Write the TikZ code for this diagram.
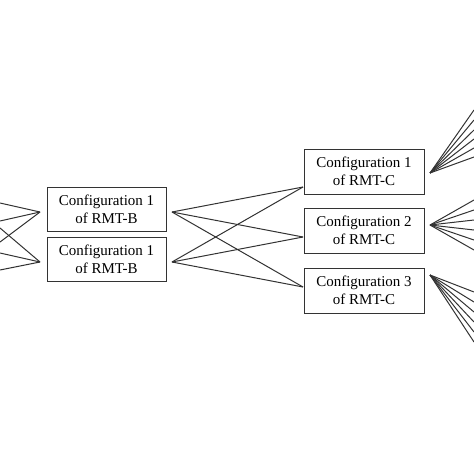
\documentclass[tikz,border=0pt]{standalone}
\usepackage{fontspec}
\setmainfont{Liberation Serif}
\usetikzlibrary{positioning}

\tikzset{
  cfgbox/.style={draw=black!80, line width=0.9pt, minimum width=119pt, minimum height=44pt,
    inner sep=0pt, align=center, font=\fontsize{15}{18}\selectfont},
  link/.style={draw=black!80, line width=1pt}
}

\begin{document}
\begin{tikzpicture}[x=1pt,y=-1pt]
  \useasboundingbox (0,0) rectangle (474,474);

  % Configurations of RMT-B
  \node[cfgbox] (b1) at (106.5,209) {Configuration 1\\of RMT-B};
  \node[cfgbox] (b2) at (106.5,259) {Configuration 1\\of RMT-B};

  % Configurations of RMT-C
  \node[cfgbox, minimum width=120pt, minimum height=45pt] (c1) at (364,171.5) {Configuration 1\\of RMT-C};
  \node[cfgbox, minimum width=120pt, minimum height=45pt] (c2) at (364,230.5) {Configuration 2\\of RMT-C};
  \node[cfgbox, minimum width=120pt, minimum height=45pt] (c3) at (364,290.5) {Configuration 3\\of RMT-C};

  % Attach points
  \coordinate (b1in) at (40,212);
  \coordinate (b2in) at (40,262);
  \coordinate (b1out) at (172,212);
  \coordinate (b2out) at (172,262);
  \coordinate (c1in) at (303,187);
  \coordinate (c2in) at (303,237);
  \coordinate (c3in) at (303,287);
  \coordinate (c1out) at (430,173);
  \coordinate (c2out) at (430,225);
  \coordinate (c3out) at (430,275);

  % Links from RMT-A (cut off)
  \foreach \y in {203,221,242} {
    \coordinate (a) at (0,\y);
    \draw[link] (a) -- (b1in);
  }
  \foreach \y in {228,253,270} {
    \coordinate (a) at (0,\y);
    \draw[link] (a) -- (b2in);
  }

  % Links RMT-B to RMT-C
  \foreach \b in {b1out,b2out} {
    \foreach \c in {c1in,c2in,c3in} {
      \draw[link] (\b) -- (\c);
    }
  }

  % Links to RMT-D (cut off)
  \foreach \y in {110,120,130,139,148,157} {
    \coordinate (d) at (474,\y);
    \draw[link] (c1out) -- (d);
  }
  \foreach \y in {200,210,220,230,240,250} {
    \coordinate (d) at (474,\y);
    \draw[link] (c2out) -- (d);
  }
  \foreach \y in {292,302,312,322,332,342} {
    \coordinate (d) at (474,\y);
    \draw[link] (c3out) -- (d);
  }
\end{tikzpicture}
\end{document}
